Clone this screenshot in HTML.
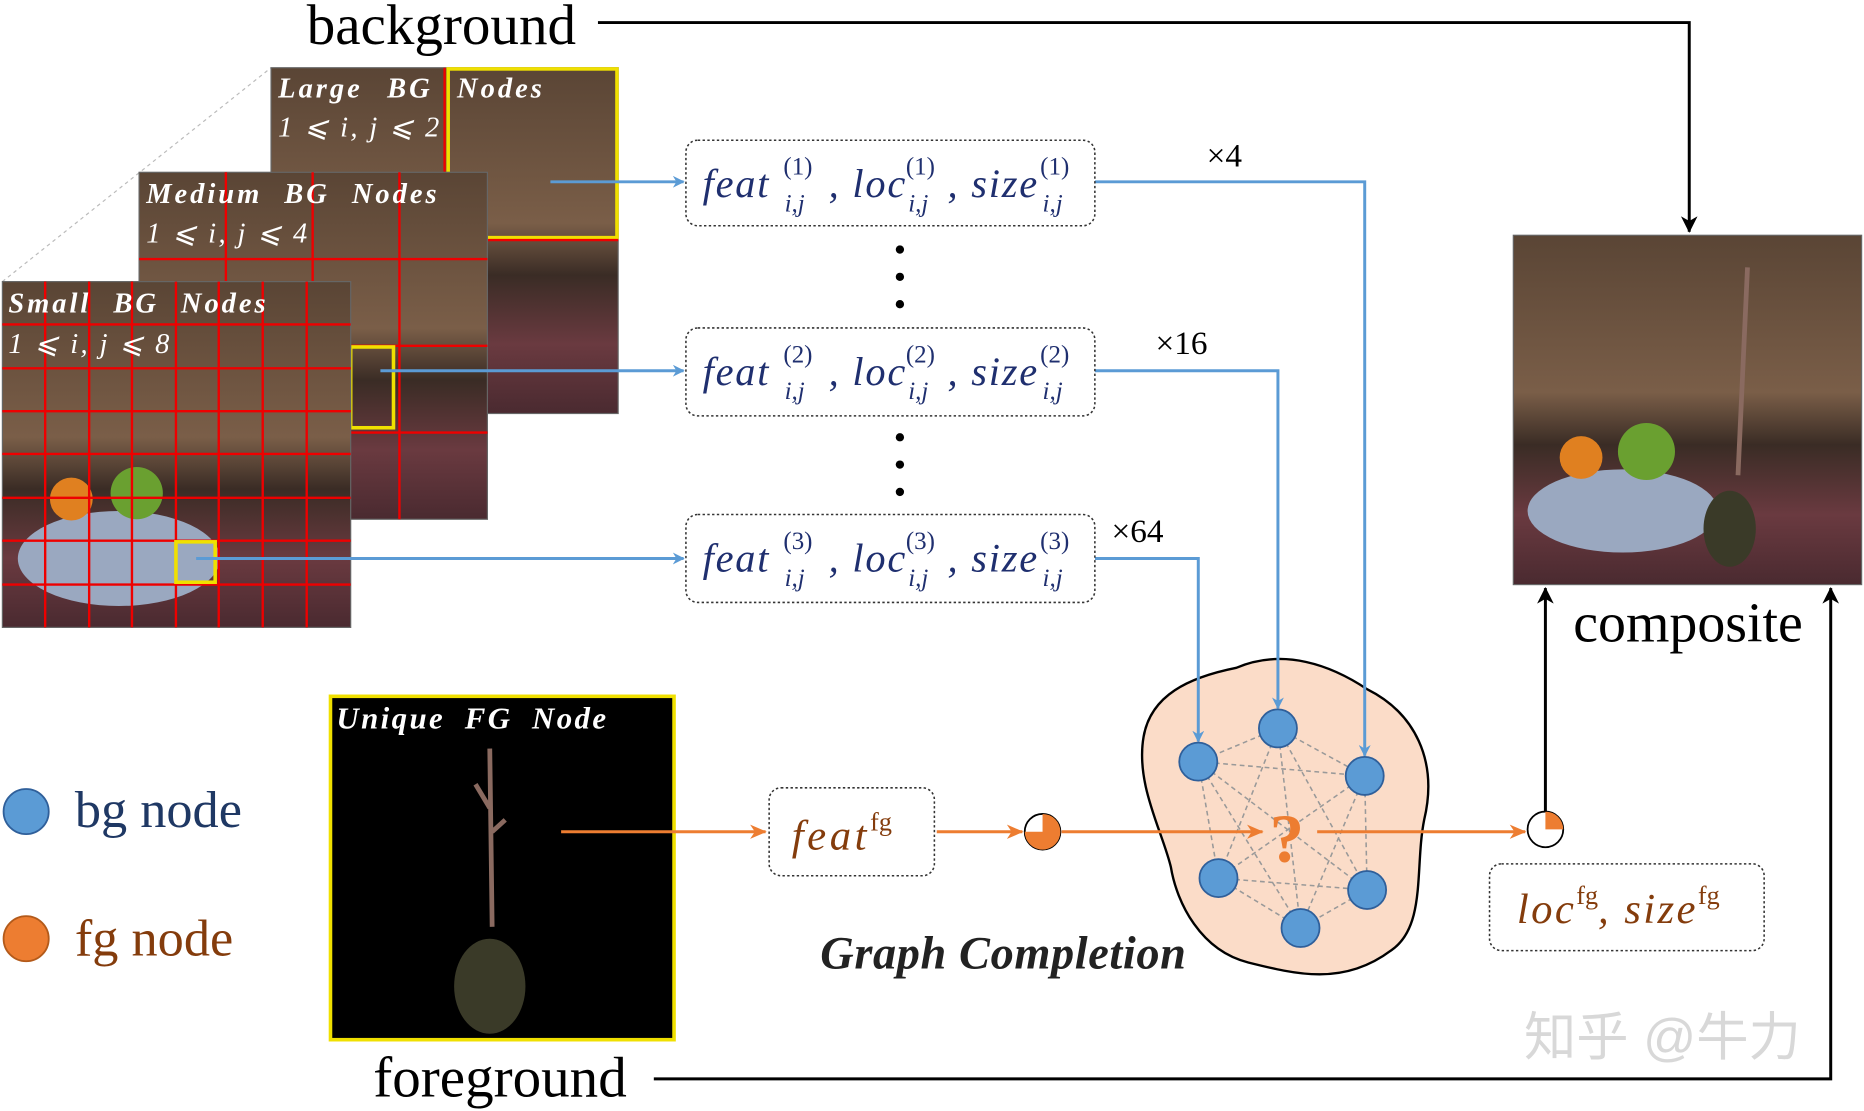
<!DOCTYPE html>
<html><head><meta charset="utf-8"><style>
html,body{margin:0;padding:0;background:#fff;}
svg{display:block}
.t{font-family:"Liberation Serif",serif;}
.it{font-family:"Liberation Serif",serif;font-style:italic;}
</style></head><body>
<svg width="1864" height="1111" viewBox="0 0 1568 935" preserveAspectRatio="none" xmlns="http://www.w3.org/2000/svg">
<defs>
<marker id="ab" markerWidth="10" markerHeight="10" refX="9" refY="5" orient="auto" markerUnits="userSpaceOnUse"><path d="M0,0 L10,5 L0,10 L3,5z" fill="#5b9bd5"/></marker>
<marker id="ao" markerWidth="14" markerHeight="12" refX="13" refY="6" orient="auto" markerUnits="userSpaceOnUse"><path d="M0,0 L14,6 L0,12 L4,6z" fill="#ed7d31"/></marker>
<marker id="ak" markerWidth="14" markerHeight="14" refX="13" refY="7" orient="auto" markerUnits="userSpaceOnUse"><path d="M0,0 L14,7 L0,14 L4,7z" fill="#000"/></marker>
<linearGradient id="ph" x1="0" y1="0" x2="0" y2="1">
<stop offset="0" stop-color="#5a4535"/><stop offset="0.45" stop-color="#7a5e48"/><stop offset="0.6" stop-color="#3a2c25"/><stop offset="0.8" stop-color="#6a3a40"/><stop offset="1" stop-color="#4a2a30"/></linearGradient>
</defs>

<text x="258" y="37" class="t" font-size="48">background</text>
<polyline points="503,19 1421,19 1421,195" fill="none" stroke="#000" stroke-width="2.5" marker-end="url(#ak)"/>

<g stroke="#bbb" stroke-width="1" stroke-dasharray="3,3" fill="none">
<line x1="2" y1="237" x2="228" y2="57"/><line x1="2" y1="528" x2="228" y2="348"/>
</g>

<rect x="228" y="57" width="292" height="291" fill="url(#ph)" stroke="#666"/>
<rect x="377" y="58" width="142" height="142" fill="none" stroke="#f0e000" stroke-width="3"/>
<line x1="374" y1="57" x2="374" y2="348" stroke="#e00" stroke-width="2"/>
<line x1="228" y1="202" x2="520" y2="202" stroke="#e00" stroke-width="2"/>
<text x="234" y="82" class="it" font-size="24" fill="#fff" font-weight="bold" letter-spacing="2.5" word-spacing="12">Large BG Nodes</text>
<text x="234" y="115" class="it" font-size="24" fill="#fff" letter-spacing="2">1 ⩽ i, j ⩽ 2</text>

<rect x="117" y="145" width="293" height="292" fill="url(#ph)" stroke="#666"/>
<g stroke="#e00" stroke-width="2">
<line x1="190" y1="145" x2="190" y2="437"/><line x1="263" y1="145" x2="263" y2="437"/><line x1="336" y1="145" x2="336" y2="437"/>
<line x1="117" y1="218" x2="410" y2="218"/><line x1="117" y1="291" x2="410" y2="291"/><line x1="117" y1="364" x2="410" y2="364"/>
</g>
<rect x="295" y="292" width="36" height="68" fill="none" stroke="#f0e000" stroke-width="3"/>
<text x="123" y="171" class="it" font-size="24" fill="#fff" font-weight="bold" letter-spacing="2.5" word-spacing="10">Medium BG Nodes</text>
<text x="123" y="204" class="it" font-size="24" fill="#fff" letter-spacing="2">1 ⩽ i, j ⩽ 4</text>

<rect x="2" y="237" width="293" height="291" fill="url(#ph)" stroke="#666"/>
<ellipse cx="100" cy="470" rx="85" ry="40" fill="#9aa8c0"/>
<circle cx="115" cy="415" r="22" fill="#6aa030"/><circle cx="60" cy="420" r="18" fill="#e08020"/>
<g stroke="#e00" stroke-width="2">
<line x1="38" y1="237" x2="38" y2="528"/><line x1="75" y1="237" x2="75" y2="528"/><line x1="111" y1="237" x2="111" y2="528"/><line x1="148" y1="237" x2="148" y2="528"/><line x1="184" y1="237" x2="184" y2="528"/><line x1="221" y1="237" x2="221" y2="528"/><line x1="258" y1="237" x2="258" y2="528"/>
<line x1="2" y1="273" x2="295" y2="273"/><line x1="2" y1="310" x2="295" y2="310"/><line x1="2" y1="346" x2="295" y2="346"/><line x1="2" y1="382" x2="295" y2="382"/><line x1="2" y1="419" x2="295" y2="419"/><line x1="2" y1="455" x2="295" y2="455"/><line x1="2" y1="492" x2="295" y2="492"/>
</g>
<rect x="148" y="456" width="33" height="34" fill="none" stroke="#f0e000" stroke-width="3"/>
<text x="7" y="263" class="it" font-size="24" fill="#fff" font-weight="bold" letter-spacing="2.5" word-spacing="10">Small BG Nodes</text>
<text x="7" y="297" class="it" font-size="24" fill="#fff" letter-spacing="2">1 ⩽ i, j ⩽ 8</text>

<path d="M1040,562 C1080,545 1120,560 1150,580 C1190,600 1210,640 1198,690 C1190,730 1200,780 1170,800 C1130,830 1090,820 1050,810 C1010,800 990,760 985,730 C978,700 955,660 962,620 C968,585 1000,570 1040,562Z" fill="#fbdcc8" stroke="#000" stroke-width="2"/>

<g stroke="#5b9bd5" stroke-width="2.5" fill="none">
<line x1="463" y1="153" x2="575" y2="153" marker-end="url(#ab)"/>
<line x1="320" y1="312" x2="575" y2="312" marker-end="url(#ab)"/>
<line x1="165" y1="470" x2="575" y2="470" marker-end="url(#ab)"/>
<polyline points="921,153 1148,153 1148,636" marker-end="url(#ab)"/>
<polyline points="921,312 1075,312 1075,596" marker-end="url(#ab)"/>
<polyline points="921,470 1008,470 1008,624" marker-end="url(#ab)"/>
</g>

<g fill="#fff" stroke="#333" stroke-width="1.3" stroke-dasharray="2,2">
<rect x="577" y="118" width="344" height="72" rx="10"/>
<rect x="577" y="276" width="344" height="74" rx="10"/>
<rect x="577" y="433" width="344" height="74" rx="10"/>
</g>
<g class="it" fill="#1f2f6f">
<g font-size="34" letter-spacing="1.5">
<text x="591" y="166">feat</text><text x="697" y="166">, loc</text><text x="797" y="166">, size</text>
<text x="591" y="324">feat</text><text x="697" y="324">, loc</text><text x="797" y="324">, size</text>
<text x="591" y="481">feat</text><text x="697" y="481">, loc</text><text x="797" y="481">, size</text>
</g>
<g font-size="21">
<text x="660" y="178">i,j</text><text x="764" y="178">i,j</text><text x="877" y="178">i,j</text>
<text x="659" y="147" font-style="normal">(1)</text><text x="762" y="147" font-style="normal">(1)</text><text x="875" y="147" font-style="normal">(1)</text>
<text x="660" y="336">i,j</text><text x="764" y="336">i,j</text><text x="877" y="336">i,j</text>
<text x="659" y="305" font-style="normal">(2)</text><text x="762" y="305" font-style="normal">(2)</text><text x="875" y="305" font-style="normal">(2)</text>
<text x="660" y="493">i,j</text><text x="764" y="493">i,j</text><text x="877" y="493">i,j</text>
<text x="659" y="462" font-style="normal">(3)</text><text x="762" y="462" font-style="normal">(3)</text><text x="875" y="462" font-style="normal">(3)</text>
</g></g>
<g fill="#000"><circle cx="757" cy="210" r="3.5"/><circle cx="757" cy="233" r="3.5"/><circle cx="757" cy="256" r="3.5"/>
<circle cx="757" cy="368" r="3.5"/><circle cx="757" cy="391" r="3.5"/><circle cx="757" cy="414" r="3.5"/></g>
<g class="t" font-size="28"><text x="1015" y="140">×4</text><text x="972" y="298">×16</text><text x="935" y="456">×64</text></g>

<g stroke="#999" stroke-width="1.3" stroke-dasharray="4,3" fill="none">
<line x1="1075" y1="613" x2="1008" y2="641"/><line x1="1075" y1="613" x2="1148" y2="653"/><line x1="1075" y1="613" x2="1025" y2="739"/><line x1="1075" y1="613" x2="1150" y2="749"/><line x1="1075" y1="613" x2="1094" y2="781"/>
<line x1="1008" y1="641" x2="1148" y2="653"/><line x1="1008" y1="641" x2="1025" y2="739"/><line x1="1008" y1="641" x2="1150" y2="749"/><line x1="1008" y1="641" x2="1094" y2="781"/>
<line x1="1148" y1="653" x2="1025" y2="739"/><line x1="1148" y1="653" x2="1150" y2="749"/><line x1="1148" y1="653" x2="1094" y2="781"/>
<line x1="1025" y1="739" x2="1150" y2="749"/><line x1="1025" y1="739" x2="1094" y2="781"/><line x1="1150" y1="749" x2="1094" y2="781"/>
</g>
<g fill="#5b9bd5" stroke="#2f5f9a" stroke-width="1.5">
<circle cx="1075" cy="613" r="16"/><circle cx="1008" cy="641" r="16"/><circle cx="1148" cy="653" r="16"/>
<circle cx="1025" cy="739" r="16"/><circle cx="1150" cy="749" r="16"/><circle cx="1094" cy="781" r="16"/>
</g>
<text x="1068" y="725" class="t" font-size="58" fill="#ed7d31" font-weight="bold">?</text>
<text x="690" y="815" class="it" font-size="39" font-weight="bold" fill="#222" letter-spacing="0.5">Graph Completion</text>

<rect x="278" y="586" width="289" height="289" fill="#000" stroke="#f0e000" stroke-width="3"/>
<path d="M412,630 L414,780 M412,680 L400,660 M414,700 L425,690" stroke="#8a6a60" stroke-width="4" fill="none"/>
<ellipse cx="412" cy="830" rx="30" ry="40" fill="#3a3a28"/>
<text x="283" y="613" class="it" font-size="26" fill="#fff" font-weight="bold" letter-spacing="2" word-spacing="8">Unique FG Node</text>
<text x="314" y="923" class="t" font-size="48">foreground</text>
<polyline points="550,908 1540,908 1540,495" fill="none" stroke="#000" stroke-width="2.5" marker-end="url(#ak)"/>

<g stroke="#ed7d31" stroke-width="2.5" fill="none">
<line x1="472" y1="700" x2="644" y2="700" marker-end="url(#ao)"/>
<line x1="788" y1="700" x2="860" y2="700" marker-end="url(#ao)"/>
<line x1="893" y1="700" x2="1062" y2="700" marker-end="url(#ao)"/>
<line x1="1108" y1="700" x2="1283" y2="700" marker-end="url(#ao)"/>
</g>
<rect x="647" y="663" width="139" height="74" rx="10" fill="#fff" stroke="#333" stroke-width="1.3" stroke-dasharray="2,2"/>
<text x="666" y="715" class="it" font-size="36" fill="#843c0c" letter-spacing="3">feat<tspan font-size="22" dy="-16" font-style="normal" letter-spacing="0">fg</tspan></text>
<circle cx="877" cy="700" r="15" fill="#fff" stroke="#000" stroke-width="1.5"/>
<path d="M877,700 L877,685 A15,15 0 1 1 862,700 Z" fill="#ed7d31"/>
<circle cx="1300" cy="698" r="15" fill="#fff" stroke="#000" stroke-width="1.5"/>
<path d="M1300,698 L1300,683 A15,15 0 0 1 1315,698 Z" fill="#ed7d31"/>
<line x1="1300" y1="683" x2="1300" y2="495" stroke="#000" stroke-width="2.5" marker-end="url(#ak)"/>
<rect x="1253" y="727" width="231" height="73" rx="10" fill="#fff" stroke="#333" stroke-width="1.3" stroke-dasharray="2,2"/>
<text x="1276" y="777" class="it" font-size="36" fill="#843c0c" letter-spacing="2">loc<tspan font-size="22" dy="-16" font-style="normal" letter-spacing="0">fg</tspan><tspan dy="16">, size</tspan><tspan font-size="22" dy="-16" font-style="normal" letter-spacing="0">fg</tspan></text>

<rect x="1273" y="198" width="293" height="294" fill="url(#ph)" stroke="#666"/>
<ellipse cx="1365" cy="430" rx="80" ry="35" fill="#9aa8c0"/>
<circle cx="1385" cy="380" r="24" fill="#6aa030"/><circle cx="1330" cy="385" r="18" fill="#e08020"/>
<path d="M1470,225 L1462,400" stroke="#8a6a60" stroke-width="4"/>
<ellipse cx="1455" cy="445" rx="22" ry="32" fill="#3a3a28"/>
<text x="1420" y="540" class="t" font-size="47" text-anchor="middle">composite</text>

<circle cx="22" cy="683" r="19" fill="#5b9bd5" stroke="#2f5f9a" stroke-width="1.5"/>
<text x="63" y="696" class="t" font-size="44" fill="#1f3864">bg node</text>
<circle cx="22" cy="790" r="19" fill="#ed7d31" stroke="#b35a1a" stroke-width="1.5"/>
<text x="63" y="804" class="t" font-size="44" fill="#843c0c">fg node</text>

<text x="1282" y="888" font-family="'Liberation Sans','Noto Sans CJK SC',sans-serif" font-size="44" fill="#d8d8d8">知乎 @牛力</text>
</svg>
</body></html>
